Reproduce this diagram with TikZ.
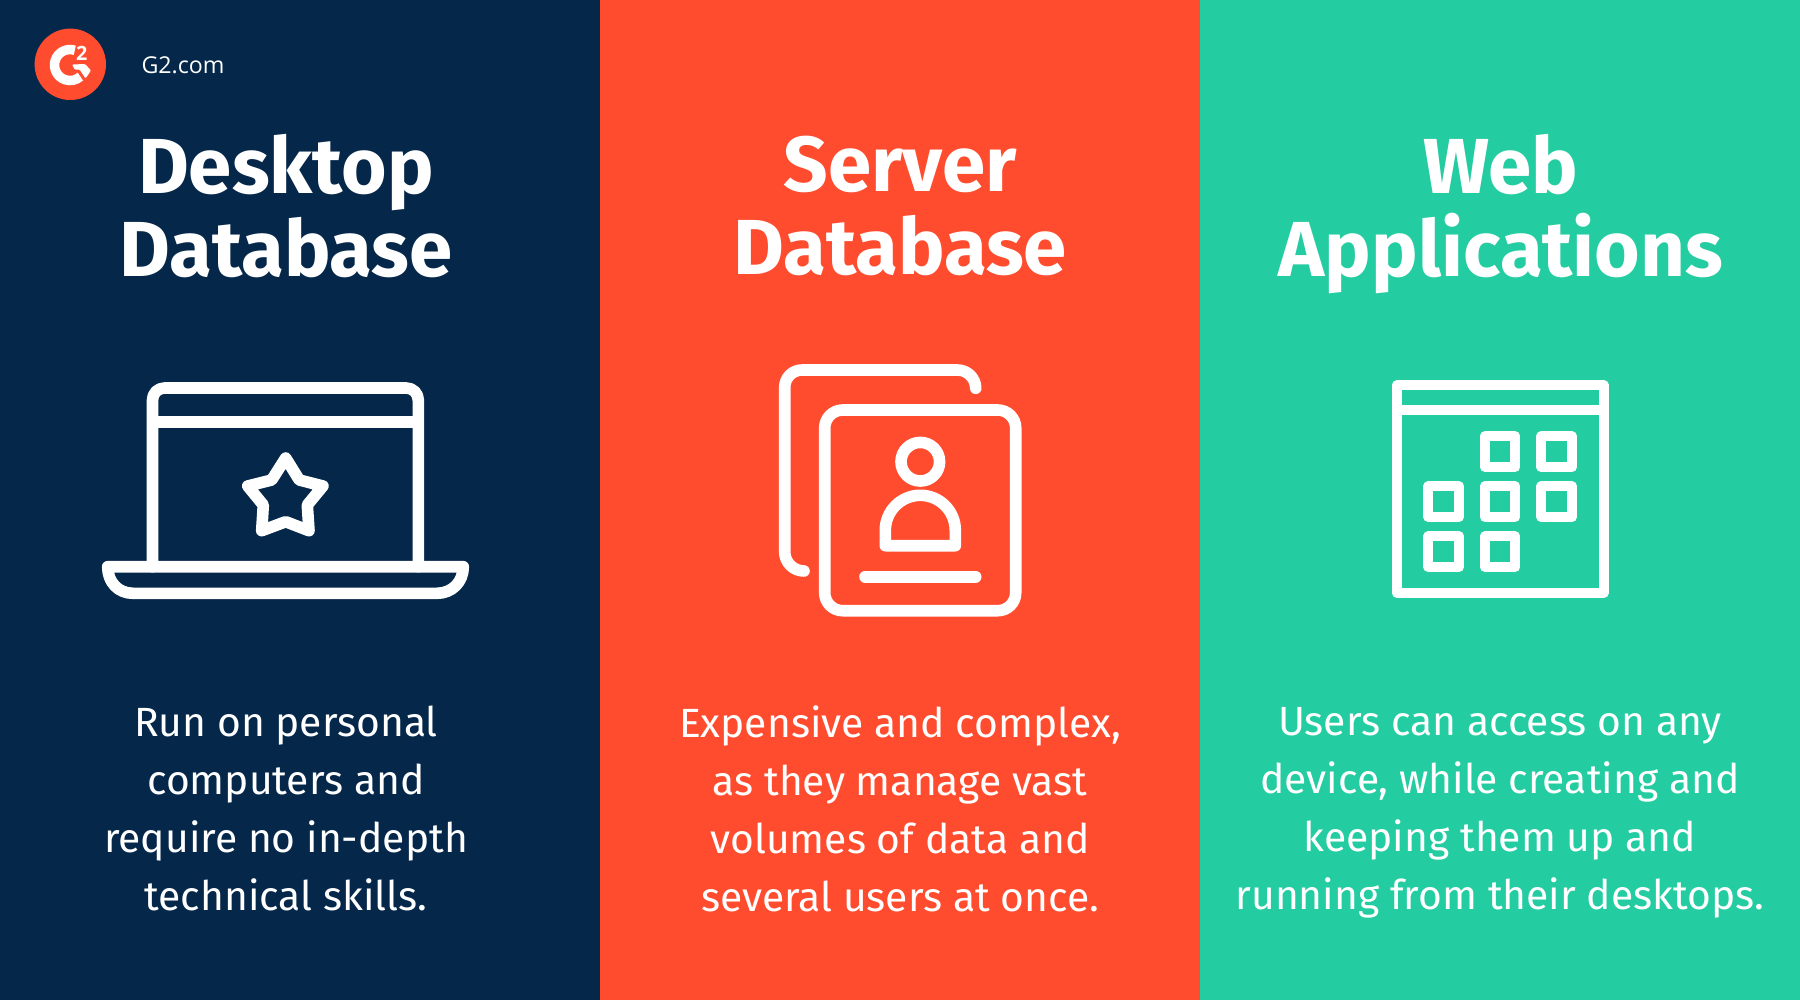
\documentclass[tikz,border=0pt]{standalone}
\usepackage{fontspec}
\setmainfont{Fira Sans}
\newfontfamily\logofont{Open Sans}
\definecolor{navy}{HTML}{05274A}
\definecolor{coral}{HTML}{FF4C2E}
\definecolor{teal}{HTML}{24CCA1}
\tikzset{
  px/.style={x=0.01cm,y=-0.01cm},
  icon/.style={draw=white,line width=3.3pt,line join=round,line cap=round},
  title/.style={text=white,align=center,inner sep=0pt,anchor=center,font=\fontsize{22.2}{23.6}\selectfont\bfseries,execute at begin node=\strut,execute at end node=\strut},
  body/.style={text=white,align=center,inner sep=0pt,anchor=center,font=\fontsize{11.6}{16.5}\selectfont,execute at begin node=\strut,execute at end node=\strut},
  cell/.style={draw=white,line width=2.85pt,line join=round},
}
\begin{document}
\begin{tikzpicture}[px]
\useasboundingbox (0,0) rectangle (1800,1000);
\fill[navy] (0,0) rectangle (600,1000);
\fill[coral] (600,0) rectangle (1200,1000);
\fill[teal] (1200,0) rectangle (1800,1000);
% logo
\fill[coral] (70.3,64.3) circle (35.7);
\draw[white,line width=2.7pt] (74.8,50.3) arc (-72:-312:15.5);
\fill[white,rounded corners=0.3pt] (72,64.5) -- (85,64) -- (91,70.5) -- (85.5,78.5) -- (79.5,69.5) -- (74.5,69.5) -- cycle;
\node[inner sep=0pt,text=white,font=\logofont\bfseries\fontsize{5.6}{6.5}\selectfont] (logotwo) at (81.7,53) {2};
\node[inner sep=0pt,text=white,font=\logofont\fontsize{6.6}{8}\selectfont] (logotext) at (183,65) {G2.com};
% titles
\node[title] (t1) at (286,217.9) {Desktop\\Database};
\node[title] (t2) at (900,217.9) {Server\\Database};
\node[title] (t3) at (1501,217.9) {Web\\Applications};
% laptop
\draw[icon] (152.5,566.7) -- (152.5,400) arc (180:270:12) -- (406.3,388) arc (270:360:12) -- (418.3,566.7);
\draw[icon,line cap=butt] (152.5,421.7) -- (418.3,421.7);
\draw[icon] (107.7,566.7) -- (463.3,566.7) .. controls (463.3,582) and (452,593.3) .. (437,593.3) -- (133,593.3) .. controls (118,593.3) and (107.7,582) .. (107.7,566.7) -- cycle;
\draw[icon] (285.7,458) -- (299.3,480) -- (323,486) -- (307.3,505) -- (309,530.7) -- (285.7,521.7) -- (261.7,530.7) -- (263.3,505) -- (247.7,486) -- (271.7,480) -- cycle;
% server icon
\draw[icon] (975.7,388.3) arc (0:-90:18.3) -- (802,370) arc (-90:-180:17.3) -- (784.7,551.7) arc (180:90:19.3);
\draw[icon] (824.7,428) arc (180:270:18) -- (997.7,410) arc (270:360:18) -- (1015.7,592.7) arc (0:90:18) -- (842.7,610.7) arc (90:180:18) -- cycle;
\draw[icon] (920.3,461.7) circle (19.3);
\draw[icon] (885.3,545.7) -- (885.3,530.3) arc (180:360:35) -- (955.3,545.7) -- cycle;
\draw[icon] (865,576.7) -- (975.7,576.7);
% web icon
\draw[cell] (1396.7,385.3) rectangle (1603.7,592.7);
\draw[cell,line cap=butt] (1396.7,410.3) -- (1603.7,410.3);
\foreach \c/\r in {1500/451.7,1556.7/451.7,1443.7/501.7,1500/501.7,1556.7/501.7,1443.7/551.7,1500/551.7}
  \draw[cell] (\c-15.3,\r-15.3) rectangle (\c+15.3,\r+15.3);
% body text
\node[body] (b1) at (286,816.9) {Run on personal\\computers and\\require no in-depth\\technical skills.};
\node[body] (b2) at (900,816.9) {Expensive and complex,\\as they manage vast\\volumes of data and\\several users at once.};
\node[body] (b3) at (1500,816.9) {Users can access on any\\device, while creating and\\keeping them up and\\running from their desktops.};
\end{tikzpicture}
\end{document}
